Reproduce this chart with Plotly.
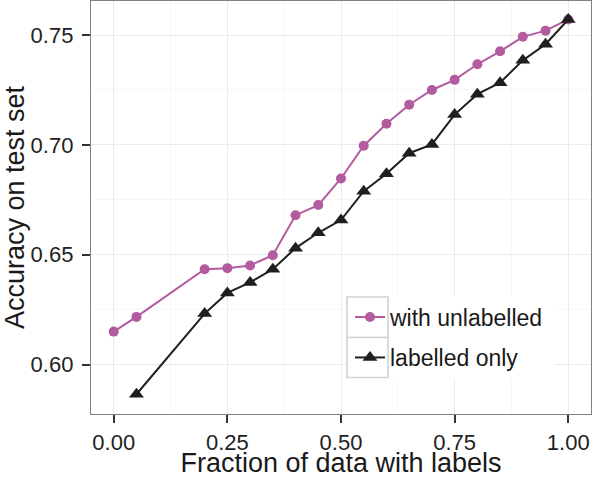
import plotly.graph_objects as go

# fraction of labelled data vs test accuracy
x_unlabelled = [0.00, 0.05, 0.20, 0.25, 0.30, 0.35, 0.40, 0.45, 0.50, 0.55,
                0.60, 0.65, 0.70, 0.75, 0.80, 0.85, 0.90, 0.95, 1.00]
acc_unlabelled = [0.6150, 0.6217, 0.6434, 0.6439, 0.6451, 0.6498, 0.6680, 0.6726, 0.6847, 0.6996,
                  0.7096, 0.7183, 0.7250, 0.7296, 0.7367, 0.7426, 0.7492, 0.7520, 0.7571]

x_labelled = [0.05, 0.20, 0.25, 0.30, 0.35, 0.40, 0.45, 0.50, 0.55,
              0.60, 0.65, 0.70, 0.75, 0.80, 0.85, 0.90, 0.95, 1.00]
acc_labelled = [0.5865, 0.6232, 0.6326, 0.6374, 0.6434, 0.6530, 0.6600, 0.6658, 0.6789,
                0.6869, 0.6962, 0.7002, 0.7138, 0.7231, 0.7283, 0.7385, 0.7458, 0.7571]

x_ticks = [0.0, 0.25, 0.5, 0.75, 1.0]
x_ticktext = ["0.00", "0.25", "0.50", "0.75", "1.00"]
y_ticks = [0.60, 0.65, 0.70, 0.75]
y_ticktext = ["0.60", "0.65", "0.70", "0.75"]

PINK = "#b35b9f"
BLACK = "#1f1f1f"
FONT = "Liberation Sans, Arial, sans-serif"

fig = go.Figure()
fig.add_trace(go.Scatter(
    x=x_unlabelled, y=acc_unlabelled, mode="lines+markers", name="with unlabelled",
    line=dict(color=PINK, width=2), marker=dict(symbol="circle", size=10, color=PINK),
    legend="legend",
))
fig.add_trace(go.Scatter(
    x=x_labelled, y=acc_labelled, mode="lines+markers", name="labelled only",
    line=dict(color=BLACK, width=2), marker=dict(symbol="triangle-up", size=13, color=BLACK),
    legend="legend2",
))

# plot area in pixels: x 91..591, y 1..414
def px(x):
    return (x - 91) / 500


def py(y):
    return (414 - y) / 413


shapes = [
    # legend background
    dict(type="rect", xref="paper", yref="paper", x0=px(346), x1=px(555), y0=py(378), y1=py(296),
         fillcolor="white", line=dict(width=0), layer="above"),
    # legend key boxes
    dict(type="rect", xref="paper", yref="paper", x0=px(347), x1=px(388), y0=py(337.5), y1=py(297),
         fillcolor="white", line=dict(color="#d2d2d2", width=1.6), layer="above"),
    dict(type="rect", xref="paper", yref="paper", x0=px(347), x1=px(388), y0=py(377.5), y1=py(337.5),
         fillcolor="white", line=dict(color="#d2d2d2", width=1.6), layer="above"),
]

legend_style = dict(
    bgcolor="rgba(0,0,0,0)", borderwidth=0, font=dict(family=FONT, size=23, color="#1a1a1a"),
    xanchor="left", yanchor="middle", x=px(350),
)

fig.update_layout(
    width=594, height=478,
    margin=dict(l=91, r=3, t=1, b=64),
    plot_bgcolor="white", paper_bgcolor="white",
    font=dict(family=FONT, color="#1a1a1a"),
    shapes=shapes,
    showlegend=True,
    legend=dict(y=py(317), **legend_style),
    legend2=dict(y=py(357.5), **legend_style),
)

fig.update_xaxes(
    range=[-0.05, 1.05], tickvals=x_ticks, ticktext=x_ticktext,
    tickfont=dict(size=22, color="#222"),
    ticks="outside", ticklen=8, tickwidth=1.6, tickcolor="#333",
    showgrid=True, gridcolor="#ebebeb", gridwidth=1,
    minor=dict(tickvals=[0.125, 0.375, 0.625, 0.875], showgrid=True, gridcolor="#f7f7f7", gridwidth=1),
    showline=True, linecolor="#808080", linewidth=1.3, mirror=True,
    zeroline=False,
    title=dict(text="Fraction of data with labels", font=dict(size=27, color="#1a1a1a"), standoff=6),
    automargin=False,
)
fig.update_yaxes(
    range=[0.5775, 0.7655], tickvals=y_ticks, ticktext=y_ticktext,
    tickfont=dict(size=22, color="#222"),
    ticks="outside", ticklen=8, tickwidth=1.6, tickcolor="#333",
    ticklabelstandoff=4,
    showgrid=True, gridcolor="#ebebeb", gridwidth=1,
    minor=dict(tickvals=[0.625, 0.675, 0.725], showgrid=True, gridcolor="#f7f7f7", gridwidth=1),
    showline=True, linecolor="#808080", linewidth=1.3, mirror=True,
    zeroline=False,
    title=dict(text="Accuracy on test set", font=dict(size=27, color="#1a1a1a"), standoff=3),
    automargin=False,
)

# the default page keeps an 8px body margin; drop it so the figure sits at the corner
fig.write_html("out.html", config={"displayModeBar": False},
               post_script="document.body.style.margin = '0';")
